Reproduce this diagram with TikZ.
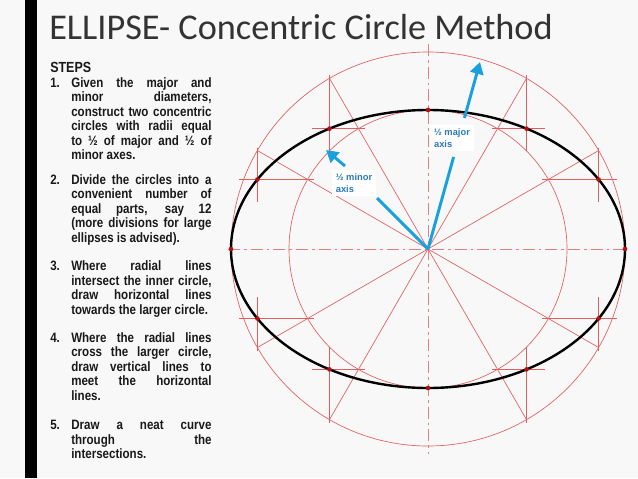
\documentclass[tikz,border=0pt]{standalone}
\usepackage{fontspec}
\setmainfont{Liberation Sans}
\newfontfamily\titlefont{Carlito}
\newfontfamily\stepfont[FakeStretch=0.85]{Liberation Sans Bold}
\usetikzlibrary{arrows.meta,calc}
\definecolor{bg}{HTML}{F8F8F8}
\definecolor{rl}{HTML}{E06060}
\definecolor{dotc}{HTML}{B01010}
\definecolor{bl}{HTML}{1AA0DC}
\definecolor{bltext}{HTML}{2A7AB8}
\tikzset{
  thin red/.style={draw=rl, line width=0.5pt},
  axisline/.style={draw=rl!80, line width=0.5pt, dash pattern=on 9pt off 3pt on 2pt off 3pt},
  ptdot/.style={circle, fill=dotc, inner sep=0pt, minimum size=3.5pt},
  blarrow/.style={draw=bl, line width=2.2pt, -{Triangle[length=9pt,width=10pt]}},
  blline/.style={draw=bl, line width=2.2pt},
  lbl/.style={fill=white, text=bltext, font=\bfseries\fontsize{7}{8.5}\selectfont, align=left, inner sep=3pt},
}
\begin{document}
\begin{tikzpicture}[x=0.75pt,y=-0.75pt]
\fill[bg] (0,0) rectangle (638,478);
\useasboundingbox (0,0) rectangle (638,478);
\fill[black] (25,0) rectangle (37,478);
\node[anchor=base west, inner sep=0pt, text=black!80, font=\titlefont\fontsize{27.2}{30}\selectfont] (title) at (49,40) {ELLIPSE- Concentric Circle Method};
% steps
\node[anchor=north west, inner sep=0pt, text width=121pt, align=justify, font=\stepfont\fontsize{10.2}{10.9}\selectfont, text=black!90] (steps) at (50,62) {%
\setlength{\parindent}{0pt}\hyphenpenalty=10000\exhyphenpenalty=10000%
{\fontsize{11}{11}\selectfont STEPS}\par
\def\itm#1{\hangindent=15.75pt\hangafter=1\makebox[15.75pt][l]{#1}}%
\def\nl{\linebreak}%
\itm{1.}Given the major and\nl minor diameters,\nl construct two concentric\nl circles with radii equal\nl to ½ of major and ½ of\nl minor axes.\par\vspace{7.5pt}
\itm{2.}Divide the circles into a\nl convenient number of\nl equal parts, say 12\nl (more divisions for large\nl ellipses is advised).\par\vspace{10.5pt}
\itm{3.}Where radial lines\nl intersect the inner circle,\nl draw horizontal lines\nl towards the larger circle.\par\vspace{10pt}
\itm{4.}Where the radial lines\nl cross the larger circle,\nl draw vertical lines to\nl meet the horizontal\nl lines.\par\vspace{11pt}
\itm{5.}Draw a neat curve\nl through the\nl intersections.\par};
% geometry
\coordinate (O) at (428,249);
\def\R{197}\def\r{139}
\draw[thin red] (O) circle[radius=\R];
\draw[thin red] (O) circle[radius=\r];
\draw[axisline] (228,249) -- (628,249);
\draw[axisline] (428,44) -- (428,454);
\foreach \a in {30,60,120,150}{
  \draw[thin red] ($(O)+({\R*cos(\a)},{-\R*sin(\a)})$) -- ($(O)+({-\R*cos(\a)},{\R*sin(\a)})$);
}
\foreach \a in {30,60,120,150,210,240,300,330}{
  \pgfmathsetmacro\cx{\R*cos(\a)}\pgfmathsetmacro\sy{-\r*sin(\a)}
  \pgfmathsetmacro\ix{\r*cos(\a)}\pgfmathsetmacro\oy{-\R*sin(\a)}
  \pgfmathsetmacro\sx{\cx>0 ? 1 : -1}\pgfmathsetmacro\sg{\sy<0 ? 1 : -1}
  \coordinate (e\a) at ($(O)+(\cx,\sy)$);
  \draw[thin red] ($(O)+(\ix-\sx*6,\sy)$) -- ($(e\a)+(\sx*18,0)$);
  \draw[thin red] ($(O)+(\cx,\oy-\sg*3)$) -- ($(e\a)+(0,\sg*22)$);
}
\draw[black, line width=1.8pt] (O) ellipse[x radius=\R, y radius=\r];
\foreach \a in {30,60,120,150,210,240,300,330}{\node[ptdot] at (e\a) {};}
\node[ptdot] (pl) at (231,249) {};\node[ptdot] (pr) at (625,249) {};
\node[ptdot] (pt) at (428,110) {};\node[ptdot] (pb) at (428,388) {};
% arrows
\coordinate (majtip) at (480,62);
\coordinate (mintip) at (326,150);
\coordinate (majA) at (453.6,157);
\coordinate (majB) at (464.4,118);
\coordinate (minA) at (377,198);
\coordinate (minB) at (345,166);
\draw[blline] (O) -- (majA);
\draw[blarrow] (majB) -- (majtip);
\draw[blline] (O) -- (minA);
\draw[blarrow] (minB) -- (mintip);
\node[lbl] (majl) at (452,138) {½ major\\axis};
\node[lbl] (minl) at (354,183) {½ minor\\axis};
\end{tikzpicture}
\end{document}
